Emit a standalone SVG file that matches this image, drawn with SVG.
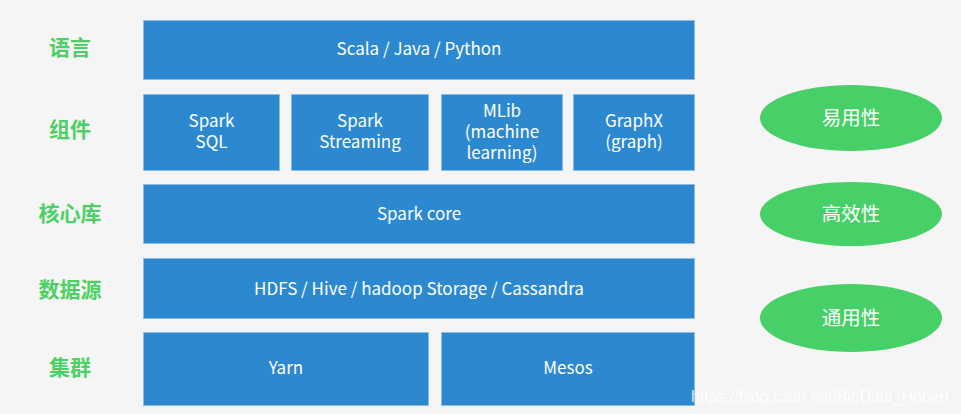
<svg xmlns="http://www.w3.org/2000/svg" width="961" height="414" viewBox="0 0 961 414">
<style>
.bg{fill:#f5f5f5}
.box{fill:#2d89cf;stroke:#8cbde6;stroke-width:1}
.bt{fill:#ffffff;font-family:"Noto Sans CJK SC","Noto Sans",sans-serif;font-size:17px;text-anchor:middle}
.lab{fill:#4cd064;font-family:"Noto Sans CJK SC",sans-serif;font-size:21px;font-weight:bold;text-anchor:middle}
.ell{fill:#48d068}
.et{fill:#ffffff;font-family:"Noto Sans CJK SC",sans-serif;font-size:19.5px;text-anchor:middle}
.wm{fill:#ffffff;fill-opacity:0.85;font-family:"Liberation Sans",sans-serif;font-size:15.8px}
</style>
<rect class="bg" x="0" y="0" width="961" height="414"/>
<g id="labels">
<text class="lab" x="70" y="55">语言</text>
<text class="lab" x="70" y="137">组件</text>
<text class="lab" x="70" y="221">核心库</text>
<text class="lab" x="70" y="297">数据源</text>
<text class="lab" x="70" y="375">集群</text>
</g>
<g id="lang"><rect class="box" x="143.5" y="20.5" width="551" height="59"/><text class="bt" x="419" y="55">Scala / Java / Python</text></g>
<g id="sql"><rect class="box" x="143.5" y="94.5" width="136" height="76"/><text class="bt" x="211.5" y="127">Spark</text><text class="bt" x="211.5" y="148">SQL</text></g>
<g id="streaming"><rect class="box" x="291.5" y="94.5" width="137" height="76"/><text class="bt" x="360" y="127">Spark</text><text class="bt" x="360" y="148">Streaming</text></g>
<g id="mlib"><rect class="box" x="441.5" y="94.5" width="121" height="76"/><text class="bt" x="502" y="117">MLib</text><text class="bt" x="502" y="138">(machine</text><text class="bt" x="502" y="159">learning)</text></g>
<g id="graphx"><rect class="box" x="573.5" y="94.5" width="121" height="76"/><text class="bt" x="634" y="127">GraphX</text><text class="bt" x="634" y="148">(graph)</text></g>
<g id="core"><rect class="box" x="143.5" y="184.5" width="551" height="59"/><text class="bt" x="419" y="220">Spark core</text></g>
<g id="storage"><rect class="box" x="143.5" y="258.5" width="551" height="60"/><text class="bt" x="419" y="295">HDFS / Hive / hadoop Storage / Cassandra</text></g>
<g id="yarn"><rect class="box" x="143.5" y="332.5" width="285" height="73"/><text class="bt" x="286" y="374">Yarn</text></g>
<g id="mesos"><rect class="box" x="441.5" y="332.5" width="253" height="73"/><text class="bt" x="568" y="374">Mesos</text></g>
<g id="easy"><ellipse class="ell" cx="851" cy="118" rx="91" ry="33"/><text class="et" x="851" y="125">易用性</text></g>
<g id="efficient"><ellipse class="ell" cx="851" cy="214" rx="91" ry="32"/><text class="et" x="851" y="221">高效性</text></g>
<g id="general"><ellipse class="ell" cx="851" cy="318" rx="91" ry="34"/><text class="et" x="851" y="325">通用性</text></g>
<g id="connectors"></g>
<text class="wm" x="691" y="402">https://blog.csdn.net/BigData_Hobert</text>
</svg>
